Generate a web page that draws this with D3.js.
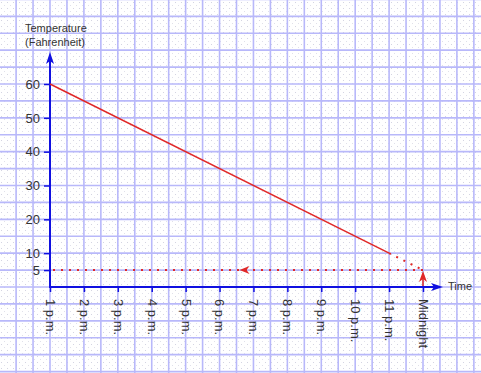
<!DOCTYPE html>
<html>
<head>
<meta charset="utf-8">
<script src="https://cdn.jsdelivr.net/npm/d3@7"></script>
<style>
  body { margin: 0; background: #fff; }
  svg { display: block; font-family: "Liberation Sans", Arial, sans-serif; }
</style>
</head>
<body>
<div id="chart"></div>
<script>
// data
const timeLabels = ["1 p.m.", "2 p.m.", "3 p.m.", "4 p.m.", "5 p.m.", "6 p.m.",
                    "7 p.m.", "8 p.m.", "9 p.m.", "10 p.m.", "11 p.m.", "Midnight"];
const measuredHours = [0, 10];          // 1 p.m. -> 11 p.m.
const measuredTemps = [60, 10];
const projectedHours = [10, 11];        // 11 p.m. -> Midnight
const projectedTemps = [10, 5];
const readTemp = 5;
const yTicks = [5, 10, 20, 30, 40, 50, 60];

const width = 481, height = 373;
const blue = "#1010e0", red = "#e02828", gridColor = "#b8b8fa", textColor = "#333";

let svg = d3.select("#chart")
    .append("svg")
    .attr("width", width)
    .attr("height", height);

let x = d3.scaleLinear().domain([0, 11]).range([50, 423]);
let y = d3.scaleLinear().domain([0, 60]).range([287, 84]);

// dotted paper texture
let defs = svg.append("defs");
let pat = defs.append("pattern")
    .attr("id", "dots")
    .attr("width", 6).attr("height", 6)
    .attr("patternUnits", "userSpaceOnUse");
pat.append("rect").attr("x", 1).attr("y", 2).attr("width", 1).attr("height", 1).attr("fill", "#d4d4e2");
pat.append("rect").attr("x", 4).attr("y", 5).attr("width", 1).attr("height", 1).attr("fill", "#e0e0ea");
svg.append("rect").attr("width", width).attr("height", height).attr("fill", "url(#dots)");

// graph paper grid: half hour by 5 degrees, extended over the page
let gridX = d3.range(-3, 26).map(d => d / 2);
let gridY = d3.range(-5, 18).map(d => d * 5);
let grid = svg.append("g");
grid.selectAll(".gx").data(gridX).enter().append("line")
    .attr("x1", d => x(d)).attr("x2", d => x(d))
    .attr("y1", 0).attr("y2", height)
    .attr("stroke", gridColor).attr("stroke-width", 1.6);
grid.selectAll(".gy").data(gridY).enter().append("line")
    .attr("x1", 0).attr("x2", width)
    .attr("y1", d => y(d)).attr("y2", d => y(d))
    .attr("stroke", gridColor).attr("stroke-width", 1.6);

// axes
let yAxis = svg.append("g")
    .attr("transform", `translate(${x(0)},0)`)
    .call(d3.axisLeft(y).tickValues(yTicks).tickSize(6).tickPadding(4));
yAxis.select(".domain").remove();
yAxis.selectAll("line").attr("stroke", blue).attr("stroke-width", 1.5);
yAxis.selectAll("text").attr("fill", textColor).style("font-size", "13px");

let xAxis = svg.append("g")
    .attr("transform", `translate(0,${y(0)})`)
    .call(d3.axisBottom(x).tickValues(d3.range(timeLabels.length))
        .tickFormat(i => timeLabels[i]).tickSize(5));
xAxis.select(".domain").remove();
xAxis.selectAll("line").attr("stroke", blue).attr("stroke-width", 1.5);
xAxis.selectAll("text")
    .attr("fill", textColor)
    .style("font-size", "13px")
    .attr("transform", "rotate(90)")
    .attr("x", 12).attr("y", 0).attr("dy", "0.35em")
    .style("text-anchor", "start");

// axis lines with arrow heads
svg.append("line")
    .attr("x1", x(0)).attr("x2", x(0)).attr("y1", y(0) + 1).attr("y2", 60)
    .attr("stroke", blue).attr("stroke-width", 2);
svg.append("path")
    .attr("d", `M${x(0)},52 L${x(0) - 4},64 L${x(0)},61 L${x(0) + 4},64 Z`)
    .attr("fill", blue);
svg.append("line")
    .attr("x1", x(0) - 1).attr("x2", 434).attr("y1", y(0)).attr("y2", y(0))
    .attr("stroke", blue).attr("stroke-width", 2);
svg.append("path")
    .attr("d", `M443,${y(0)} L431,${y(0) - 4} L434,${y(0)} L431,${y(0) + 4} Z`)
    .attr("fill", blue);

// axis titles
svg.append("text").attr("x", 25).attr("y", 32)
    .attr("fill", textColor).style("font-size", "11px").text("Temperature");
svg.append("text").attr("x", 25).attr("y", 46)
    .attr("fill", textColor).style("font-size", "11px").text("(Fahrenheit)");
svg.append("text").attr("x", 448).attr("y", 290)
    .attr("fill", textColor).style("font-size", "11px").text("Time");

// measured temperature line
let line = d3.line().x(d => x(d[0])).y(d => y(d[1]));
svg.append("path")
    .datum(d3.zip(measuredHours, measuredTemps))
    .attr("d", line)
    .attr("fill", "none").attr("stroke", red).attr("stroke-width", 1.5);

// projected part, dotted
svg.append("path")
    .datum(d3.zip(projectedHours, projectedTemps))
    .attr("d", line)
    .attr("fill", "none").attr("stroke", red).attr("stroke-width", 2)
    .attr("stroke-dasharray", "2,6");

// read-off line back to the temperature axis
let endX = x(projectedHours[1]);
svg.append("line")
    .attr("x1", endX).attr("x2", x(0))
    .attr("y1", y(readTemp)).attr("y2", y(readTemp))
    .attr("stroke", red).attr("stroke-width", 2)
    .attr("stroke-dasharray", "2,6");
let midX = (endX + x(0)) / 2 + 3;
svg.append("path")
    .attr("d", `M${midX},${y(readTemp)} L${midX + 10},${y(readTemp) - 4} L${midX + 7},${y(readTemp)} L${midX + 10},${y(readTemp) + 4} Z`)
    .attr("fill", red);

// arrow up from midnight to the projected value
svg.append("line")
    .attr("x1", endX).attr("x2", endX)
    .attr("y1", y(0) - 1).attr("y2", y(readTemp) + 6)
    .attr("stroke", red).attr("stroke-width", 1.5);
svg.append("path")
    .attr("d", `M${endX},${y(readTemp) + 1} L${endX - 4},${y(readTemp) + 12} L${endX},${y(readTemp) + 9} L${endX + 4},${y(readTemp) + 12} Z`)
    .attr("fill", red);
</script>
</body>
</html>
